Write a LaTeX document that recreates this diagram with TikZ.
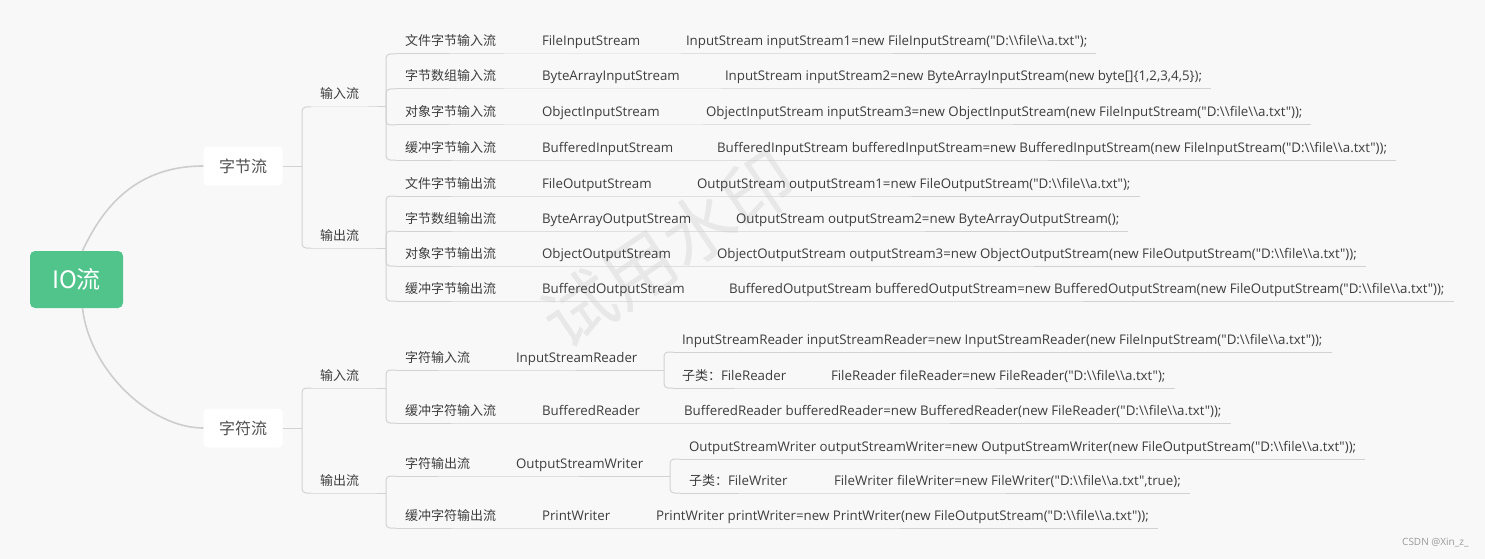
\documentclass[tikz,border=0pt]{standalone}
\usepackage{fontspec}
\newfontfamily\lat{Open Sans}
\newfontfamily\cjk{Noto Sans CJK SC}
\definecolor{bgc}{HTML}{F8F8F8}
\definecolor{txt}{HTML}{3D3D3D}
\definecolor{lnc}{HTML}{D2D2D2}
\definecolor{curvec}{HTML}{CDCDCD}
\definecolor{rootc}{HTML}{50C48B}
\definecolor{wmc}{HTML}{E8E8E8}
\newcommand\BSL{\textbackslash}
\newcommand\FPATH{"D:\BSL\BSL file\BSL\BSL a.txt"}
\newcommand\zh[1]{{\cjk\fontsize{13}{15}\selectfont #1}}
\newcommand\tp[4]{\node[topic] (#1) at ({#2-9},{#3-8}) {#4};}
\newcommand\rowB[7]{%
  \tp{#1a}{405}{#2}{\zh{#3}}
  \tp{#1b}{#4}{#2}{#5}
  \tp{#1c}{#6}{#2}{#7}
  \draw[ul] (#1a.south west) -- (#1a.south east) -- (#1b.south west) -- (#1b.south east) -- (#1c.south west) -- (#1c.south east);
}
\begin{document}
\begin{tikzpicture}[x=1pt,y=-1pt,
  topic/.style={inner xsep=9pt, inner ysep=8pt, text depth=0pt, outer sep=0pt,
    anchor=base west, text=txt, font=\lat\fontsize{13.3}{15}\selectfont},
  ul/.style={draw=lnc, line width=1pt},
  jn/.style={draw=lnc, line width=1pt, rounded corners=4pt},
  box/.style={fill=white, rounded corners=4pt, minimum width=79pt, minimum height=39pt,
    inner sep=0pt, text=txt!90, font=\cjk\fontsize{16}{18}\selectfont},
  rootbox/.style={fill=rootc, rounded corners=5pt, minimum width=93pt, minimum height=57pt,
    inner sep=0pt, text=white, font=\cjk\fontsize{24}{28}\selectfont},
  curve/.style={draw=curvec, line width=1.6pt}]
\useasboundingbox (0,0) rectangle (1485,559);
\fill[bgc] (0,0) rectangle (1485,559);

% watermark
\node[rotate=34, text=wmc, font=\cjk\fontsize{72}{72}\selectfont] (wmk) at (669,249) {试用水印};

% root and main boxes
\node[rootbox] (root) at (76.5,279.5) {IO流};
\node[box] (bbox) at (243,166) {字节流};
\node[box] (cbox) at (243,428) {字符流};
\draw[curve] ([xshift=6pt]root.north) .. controls +(17,-36) and +(-73,0) .. (bbox.west);
\draw[curve] ([xshift=6pt]root.south) .. controls +(7,62) and +(-53,0) .. (cbox.west);

% ---------- byte stream ----------
\coordinate (jB) at (302,166);
\tp{bin}{320}{107}{\zh{输入流}}
\tp{bout}{320}{248}{\zh{输出流}}
\draw[ul] (bbox.east) -- (jB);
\draw[jn] (jB) -- (jB |- bin.south) -- (bin.south west);
\draw[jn] (jB) -- (jB |- bout.south) -- (bout.south west);
\coordinate (jbi) at (386,107);
\coordinate (jbo) at (386,248);
\draw[ul] (bin.south west) -- (bin.south east) -- (jbi);
\draw[ul] (bout.south west) -- (bout.south east) -- (jbo);

\rowB{r1}{54}{文件字节输入流}{542}{FileInputStream}{686}{InputStream inputStream1=new FileInputStream(\FPATH);}
\rowB{r2}{89}{字节数组输入流}{542}{ByteArrayInputStream}{725}{InputStream inputStream2=new ByteArrayInputStream(new byte[]\{1,2,3,4,5\});}
\rowB{r3}{125}{对象字节输入流}{542}{ObjectInputStream}{706}{ObjectInputStream inputStream3=new ObjectInputStream(new FileInputStream(\FPATH));}
\rowB{r4}{160}{缓冲字节输入流}{542}{BufferedInputStream}{717}{BufferedInputStream bufferedInputStream=new BufferedInputStream(new FileInputStream(\FPATH));}
\rowB{r5}{196}{文件字节输出流}{542}{FileOutputStream}{697}{OutputStream outputStream1=new FileOutputStream(\FPATH);}
\rowB{r6}{231}{字节数组输出流}{542}{ByteArrayOutputStream}{736}{OutputStream outputStream2=new ByteArrayOutputStream();}
\rowB{r7}{266}{对象字节输出流}{542}{ObjectOutputStream}{717}{ObjectOutputStream outputStream3=new ObjectOutputStream(new FileOutputStream(\FPATH));}
\rowB{r8}{301}{缓冲字节输出流}{542}{BufferedOutputStream}{729}{BufferedOutputStream bufferedOutputStream=new BufferedOutputStream(new FileOutputStream(\FPATH));}

\foreach \r in {r1,r2,r3,r4} \draw[jn] (jbi) -- (jbi |- \r a.south) -- (\r a.south west);
\foreach \r in {r5,r6,r7,r8} \draw[jn] (jbo) -- (jbo |- \r a.south) -- (\r a.south west);

% ---------- character stream ----------
\coordinate (jC) at (302,428);
\tp{cin}{320}{388}{\zh{输入流}}
\tp{cout}{320}{493}{\zh{输出流}}
\draw[ul] (cbox.east) -- (jC);
\draw[jn] (jC) -- (jC |- cin.south) -- (cin.south west);
\draw[jn] (jC) -- (jC |- cout.south) -- (cout.south west);
\coordinate (jci) at (386,388);
\coordinate (jco) at (386,493);
\draw[ul] (cin.south west) -- (cin.south east) -- (jci);
\draw[ul] (cout.south west) -- (cout.south east) -- (jco);

% InputStreamReader
\tp{r9a}{405}{370}{\zh{字符输入流}}
\tp{r9b}{516}{370}{InputStreamReader}
\draw[ul] (r9a.south west) -- (r9a.south east) -- (r9b.south west) -- (r9b.south east);
\coordinate (jisr) at (664,370);
\draw[ul] (r9b.south east) -- (jisr);
\tp{r9c}{682}{352}{InputStreamReader inputStreamReader=new InputStreamReader(new FileInputStream(\FPATH));}
\tp{r9d}{682}{388}{\zh{子类：}FileReader}
\tp{r9e}{831}{388}{FileReader fileReader=new FileReader(\FPATH);}
\draw[ul] (r9c.south west) -- (r9c.south east);
\draw[ul] (r9d.south west) -- (r9d.south east) -- (r9e.south west) -- (r9e.south east);
\draw[jn] (jisr) -- (jisr |- r9c.south) -- (r9c.south west);
\draw[jn] (jisr) -- (jisr |- r9d.south) -- (r9d.south west);

\rowB{r10}{423}{缓冲字符输入流}{542}{BufferedReader}{684}{BufferedReader bufferedReader=new BufferedReader(new FileReader(\FPATH));}
\draw[jn] (jci) -- (jci |- r9a.south) -- (r9a.south west);
\draw[jn] (jci) -- (jci |- r10a.south) -- (r10a.south west);

% OutputStreamWriter
\tp{r11a}{405}{476}{\zh{字符输出流}}
\tp{r11b}{516}{476}{OutputStreamWriter}
\draw[ul] (r11a.south west) -- (r11a.south east) -- (r11b.south west) -- (r11b.south east);
\coordinate (josw) at (670,476);
\draw[ul] (r11b.south east) -- (josw);
\tp{r11c}{689}{459}{OutputStreamWriter outputStreamWriter=new OutputStreamWriter(new FileOutputStream(\FPATH));}
\tp{r11d}{689}{493}{\zh{子类：}FileWriter}
\tp{r11e}{834}{493}{FileWriter fileWriter=new FileWriter("D:\BSL\BSL file\BSL\BSL a.txt",true);}
\draw[ul] (r11c.south west) -- (r11c.south east);
\draw[ul] (r11d.south west) -- (r11d.south east) -- (r11e.south west) -- (r11e.south east);
\draw[jn] (josw) -- (josw |- r11c.south) -- (r11c.south west);
\draw[jn] (josw) -- (josw |- r11d.south) -- (r11d.south west);

\rowB{r12}{528}{缓冲字符输出流}{542}{PrintWriter}{656}{PrintWriter printWriter=new PrintWriter(new FileOutputStream(\FPATH));}
\draw[jn] (jco) -- (jco |- r11a.south) -- (r11a.south west);
\draw[jn] (jco) -- (jco |- r12a.south) -- (r12a.south west);

\node[anchor=east, text=gray!80, font=\lat\fontsize{10}{12}\selectfont] (csdn) at (1472,543) {CSDN @Xin\_z\_};
\end{tikzpicture}
\end{document}
